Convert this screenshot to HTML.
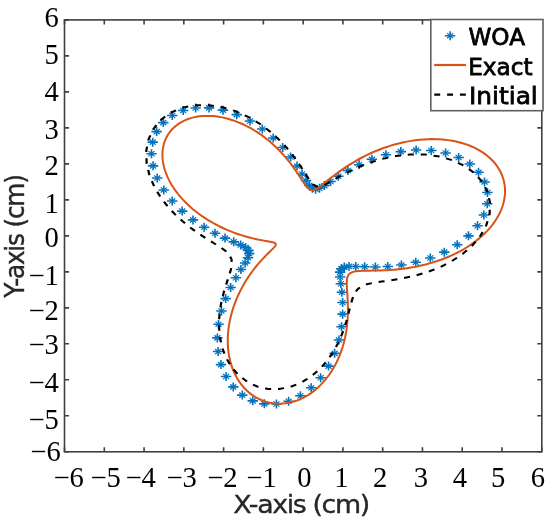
<!DOCTYPE html><html><head><meta charset="utf-8"><style>html,body{margin:0;padding:0;background:#fff;}svg{display:block}</style></head><body>
<svg width="550" height="526" viewBox="0 0 550 526">
<rect width="550" height="526" fill="#fff"/>
<defs><filter id="b" x="0" y="0" width="1" height="1"><feGaussianBlur stdDeviation="0.4"/></filter><filter id="b2" x="-0.1" y="-0.1" width="1.2" height="1.2"><feGaussianBlur stdDeviation="0.55"/></filter></defs>
<g filter="url(#b)">
<g filter="url(#b2)" fill="none" stroke="#0072BD"><path d="M463.27,235.85h10.4M468.47,231.35v9.0M472.29,225.82h10.4M477.49,221.32v9.0M478.64,214.98h10.4M483.84,210.48v9.0M482.02,203.75h10.4M487.22,199.25v9.0M482.25,192.57h10.4M487.45,188.07v9.0M479.32,181.94h10.4M484.52,177.44v9.0M473.35,172.31h10.4M478.55,167.81v9.0M464.59,164.07h10.4M469.79,159.57v9.0M453.46,157.55h10.4M458.66,153.05v9.0M440.42,152.99h10.4M445.62,148.49v9.0M426.04,150.50h10.4M431.24,146.00v9.0M410.91,150.07h10.4M416.11,145.57v9.0M395.62,151.58h10.4M400.82,147.08v9.0M380.71,154.76h10.4M385.91,150.26v9.0M366.69,159.28h10.4M371.89,154.78v9.0M353.93,164.70h10.4M359.13,160.20v9.0M342.72,170.55h10.4M347.92,166.05v9.0M333.20,176.30h10.4M338.40,171.80v9.0M325.39,181.48h10.4M330.59,176.98v9.0M319.16,185.61h10.4M324.36,181.11v9.0M314.29,188.31h10.4M319.49,183.81v9.0M310.44,189.27h10.4M315.64,184.77v9.0M307.21,188.31h10.4M312.41,183.81v9.0M304.17,185.38h10.4M309.37,180.88v9.0M300.86,180.53h10.4M306.06,176.03v9.0M296.86,173.96h10.4M302.06,169.46v9.0M291.81,165.98h10.4M297.01,161.48v9.0M285.42,156.99h10.4M290.62,152.49v9.0M277.52,147.48h10.4M282.72,142.98v9.0M268.05,137.97h10.4M273.25,133.47v9.0M257.08,128.98h10.4M262.28,124.48v9.0M244.82,121.06h10.4M250.02,116.56v9.0M231.57,114.65h10.4M236.77,110.15v9.0M217.76,110.16h10.4M222.96,105.66v9.0M203.87,107.88h10.4M209.07,103.38v9.0M190.43,108.00h10.4M195.63,103.50v9.0M177.98,110.56h10.4M183.18,106.06v9.0M167.05,115.50h10.4M172.25,111.00v9.0M158.09,122.62h10.4M163.29,118.12v9.0M151.49,131.62h10.4M156.69,127.12v9.0M147.52,142.13h10.4M152.72,137.63v9.0M146.31,153.69h10.4M151.51,149.19v9.0M147.86,165.83h10.4M153.06,161.33v9.0M152.04,178.06h10.4M157.24,173.56v9.0M158.56,189.94h10.4M163.76,185.44v9.0M167.03,201.06h10.4M172.23,196.56v9.0M176.97,211.12h10.4M182.17,206.62v9.0M187.80,219.90h10.4M193.00,215.40v9.0M198.95,227.29h10.4M204.15,222.79v9.0M209.80,233.32h10.4M215.00,228.82v9.0M219.82,238.09h10.4M225.02,233.59v9.0M228.50,241.85h10.4M233.70,237.35v9.0M235.47,244.90h10.4M240.67,240.40v9.0M240.44,247.60h10.4M245.64,243.10v9.0M243.29,250.37h10.4M248.49,245.87v9.0M244.03,253.61h10.4M249.23,249.11v9.0M242.81,257.69h10.4M248.01,253.19v9.0M239.91,262.93h10.4M245.11,258.43v9.0M235.72,269.56h10.4M240.92,265.06v9.0M230.73,277.73h10.4M235.93,273.23v9.0M225.46,287.44h10.4M230.66,282.94v9.0M220.46,298.59h10.4M225.66,294.09v9.0M216.26,310.96h10.4M221.46,306.46v9.0M213.35,324.20h10.4M218.55,319.70v9.0M212.13,337.90h10.4M217.33,333.40v9.0M212.89,351.55h10.4M218.09,347.05v9.0M215.80,364.62h10.4M221.00,360.12v9.0M220.88,376.57h10.4M226.08,372.07v9.0M228.04,386.88h10.4M233.24,382.38v9.0M237.05,395.09h10.4M242.25,390.59v9.0M247.55,400.83h10.4M252.75,396.33v9.0M259.11,403.84h10.4M264.31,399.34v9.0M271.24,403.98h10.4M276.44,399.48v9.0M283.42,401.24h10.4M288.62,396.74v9.0M295.15,395.76h10.4M300.35,391.26v9.0M305.95,387.81h10.4M311.15,383.31v9.0M315.44,377.76h10.4M320.64,373.26v9.0M323.33,366.09h10.4M328.53,361.59v9.0M329.44,353.33h10.4M334.64,348.83v9.0M333.75,340.04h10.4M338.95,335.54v9.0M336.35,326.80h10.4M341.55,322.30v9.0M337.46,314.14h10.4M342.66,309.64v9.0M337.42,302.51h10.4M342.62,298.01v9.0M336.65,292.29h10.4M341.85,287.79v9.0M335.64,283.75h10.4M340.84,279.25v9.0M334.90,277.01h10.4M340.10,272.51v9.0M334.94,272.09h10.4M340.14,267.59v9.0M336.20,268.85h10.4M341.40,264.35v9.0M339.07,267.08h10.4M344.27,262.58v9.0M343.83,266.42h10.4M349.03,261.92v9.0M350.62,266.48h10.4M355.82,261.98v9.0M359.46,266.82h10.4M364.66,262.32v9.0M370.21,266.98h10.4M375.41,262.48v9.0M382.60,266.52h10.4M387.80,262.02v9.0M396.21,265.06h10.4M401.41,260.56v9.0M410.57,262.29h10.4M415.77,257.79v9.0M425.07,258.02h10.4M430.27,253.52v9.0M439.10,252.15h10.4M444.30,247.65v9.0M452.03,244.71h10.4M457.23,240.21v9.0" stroke-width="1.6"/><path d="M465.47,233.25l6.0,5.2M465.47,238.45l6.0,-5.2M474.49,223.22l6.0,5.2M474.49,228.42l6.0,-5.2M480.84,212.38l6.0,5.2M480.84,217.58l6.0,-5.2M484.22,201.15l6.0,5.2M484.22,206.35l6.0,-5.2M484.45,189.97l6.0,5.2M484.45,195.17l6.0,-5.2M481.52,179.34l6.0,5.2M481.52,184.54l6.0,-5.2M475.55,169.71l6.0,5.2M475.55,174.91l6.0,-5.2M466.79,161.47l6.0,5.2M466.79,166.67l6.0,-5.2M455.66,154.95l6.0,5.2M455.66,160.15l6.0,-5.2M442.62,150.39l6.0,5.2M442.62,155.59l6.0,-5.2M428.24,147.90l6.0,5.2M428.24,153.10l6.0,-5.2M413.11,147.47l6.0,5.2M413.11,152.67l6.0,-5.2M397.82,148.98l6.0,5.2M397.82,154.18l6.0,-5.2M382.91,152.16l6.0,5.2M382.91,157.36l6.0,-5.2M368.89,156.68l6.0,5.2M368.89,161.88l6.0,-5.2M356.13,162.10l6.0,5.2M356.13,167.30l6.0,-5.2M344.92,167.95l6.0,5.2M344.92,173.15l6.0,-5.2M335.40,173.70l6.0,5.2M335.40,178.90l6.0,-5.2M327.59,178.88l6.0,5.2M327.59,184.08l6.0,-5.2M321.36,183.01l6.0,5.2M321.36,188.21l6.0,-5.2M316.49,185.71l6.0,5.2M316.49,190.91l6.0,-5.2M312.64,186.67l6.0,5.2M312.64,191.87l6.0,-5.2M309.41,185.71l6.0,5.2M309.41,190.91l6.0,-5.2M306.37,182.78l6.0,5.2M306.37,187.98l6.0,-5.2M303.06,177.93l6.0,5.2M303.06,183.13l6.0,-5.2M299.06,171.36l6.0,5.2M299.06,176.56l6.0,-5.2M294.01,163.38l6.0,5.2M294.01,168.58l6.0,-5.2M287.62,154.39l6.0,5.2M287.62,159.59l6.0,-5.2M279.72,144.88l6.0,5.2M279.72,150.08l6.0,-5.2M270.25,135.37l6.0,5.2M270.25,140.57l6.0,-5.2M259.28,126.38l6.0,5.2M259.28,131.58l6.0,-5.2M247.02,118.46l6.0,5.2M247.02,123.66l6.0,-5.2M233.77,112.05l6.0,5.2M233.77,117.25l6.0,-5.2M219.96,107.56l6.0,5.2M219.96,112.76l6.0,-5.2M206.07,105.28l6.0,5.2M206.07,110.48l6.0,-5.2M192.63,105.40l6.0,5.2M192.63,110.60l6.0,-5.2M180.18,107.96l6.0,5.2M180.18,113.16l6.0,-5.2M169.25,112.90l6.0,5.2M169.25,118.10l6.0,-5.2M160.29,120.02l6.0,5.2M160.29,125.22l6.0,-5.2M153.69,129.02l6.0,5.2M153.69,134.22l6.0,-5.2M149.72,139.53l6.0,5.2M149.72,144.73l6.0,-5.2M148.51,151.09l6.0,5.2M148.51,156.29l6.0,-5.2M150.06,163.23l6.0,5.2M150.06,168.43l6.0,-5.2M154.24,175.46l6.0,5.2M154.24,180.66l6.0,-5.2M160.76,187.34l6.0,5.2M160.76,192.54l6.0,-5.2M169.23,198.46l6.0,5.2M169.23,203.66l6.0,-5.2M179.17,208.52l6.0,5.2M179.17,213.72l6.0,-5.2M190.00,217.30l6.0,5.2M190.00,222.50l6.0,-5.2M201.15,224.69l6.0,5.2M201.15,229.89l6.0,-5.2M212.00,230.72l6.0,5.2M212.00,235.92l6.0,-5.2M222.02,235.49l6.0,5.2M222.02,240.69l6.0,-5.2M230.70,239.25l6.0,5.2M230.70,244.45l6.0,-5.2M237.67,242.30l6.0,5.2M237.67,247.50l6.0,-5.2M242.64,245.00l6.0,5.2M242.64,250.20l6.0,-5.2M245.49,247.77l6.0,5.2M245.49,252.97l6.0,-5.2M246.23,251.01l6.0,5.2M246.23,256.21l6.0,-5.2M245.01,255.09l6.0,5.2M245.01,260.29l6.0,-5.2M242.11,260.33l6.0,5.2M242.11,265.53l6.0,-5.2M237.92,266.96l6.0,5.2M237.92,272.16l6.0,-5.2M232.93,275.13l6.0,5.2M232.93,280.33l6.0,-5.2M227.66,284.84l6.0,5.2M227.66,290.04l6.0,-5.2M222.66,295.99l6.0,5.2M222.66,301.19l6.0,-5.2M218.46,308.36l6.0,5.2M218.46,313.56l6.0,-5.2M215.55,321.60l6.0,5.2M215.55,326.80l6.0,-5.2M214.33,335.30l6.0,5.2M214.33,340.50l6.0,-5.2M215.09,348.95l6.0,5.2M215.09,354.15l6.0,-5.2M218.00,362.02l6.0,5.2M218.00,367.22l6.0,-5.2M223.08,373.97l6.0,5.2M223.08,379.17l6.0,-5.2M230.24,384.28l6.0,5.2M230.24,389.48l6.0,-5.2M239.25,392.49l6.0,5.2M239.25,397.69l6.0,-5.2M249.75,398.23l6.0,5.2M249.75,403.43l6.0,-5.2M261.31,401.24l6.0,5.2M261.31,406.44l6.0,-5.2M273.44,401.38l6.0,5.2M273.44,406.58l6.0,-5.2M285.62,398.64l6.0,5.2M285.62,403.84l6.0,-5.2M297.35,393.16l6.0,5.2M297.35,398.36l6.0,-5.2M308.15,385.21l6.0,5.2M308.15,390.41l6.0,-5.2M317.64,375.16l6.0,5.2M317.64,380.36l6.0,-5.2M325.53,363.49l6.0,5.2M325.53,368.69l6.0,-5.2M331.64,350.73l6.0,5.2M331.64,355.93l6.0,-5.2M335.95,337.44l6.0,5.2M335.95,342.64l6.0,-5.2M338.55,324.20l6.0,5.2M338.55,329.40l6.0,-5.2M339.66,311.54l6.0,5.2M339.66,316.74l6.0,-5.2M339.62,299.91l6.0,5.2M339.62,305.11l6.0,-5.2M338.85,289.69l6.0,5.2M338.85,294.89l6.0,-5.2M337.84,281.15l6.0,5.2M337.84,286.35l6.0,-5.2M337.10,274.41l6.0,5.2M337.10,279.61l6.0,-5.2M337.14,269.49l6.0,5.2M337.14,274.69l6.0,-5.2M338.40,266.25l6.0,5.2M338.40,271.45l6.0,-5.2M341.27,264.48l6.0,5.2M341.27,269.68l6.0,-5.2M346.03,263.82l6.0,5.2M346.03,269.02l6.0,-5.2M352.82,263.88l6.0,5.2M352.82,269.08l6.0,-5.2M361.66,264.22l6.0,5.2M361.66,269.42l6.0,-5.2M372.41,264.38l6.0,5.2M372.41,269.58l6.0,-5.2M384.80,263.92l6.0,5.2M384.80,269.12l6.0,-5.2M398.41,262.46l6.0,5.2M398.41,267.66l6.0,-5.2M412.77,259.69l6.0,5.2M412.77,264.89l6.0,-5.2M427.27,255.42l6.0,5.2M427.27,260.62l6.0,-5.2M441.30,249.55l6.0,5.2M441.30,254.75l6.0,-5.2M454.23,242.11l6.0,5.2M454.23,247.31l6.0,-5.2" stroke-width="1.2"/></g>
<path d="M482.12,235.85 L484.86,233.26 L487.46,230.60 L489.91,227.86 L492.20,225.06 L494.32,222.20 L496.26,219.29 L498.02,216.33 L499.59,213.34 L500.98,210.31 L502.17,207.25 L503.15,204.18 L503.94,201.10 L504.51,198.02 L504.88,194.94 L505.05,191.87 L504.99,188.83 L504.73,185.81 L504.26,182.84 L503.58,179.90 L502.69,177.02 L501.59,174.20 L500.29,171.45 L498.79,168.77 L497.10,166.17 L495.21,163.66 L493.13,161.24 L490.87,158.93 L488.44,156.72 L485.84,154.62 L483.07,152.65 L480.15,150.79 L477.08,149.06 L473.87,147.46 L470.54,145.99 L467.07,144.66 L463.50,143.47 L459.82,142.42 L456.05,141.52 L452.19,140.75 L448.25,140.13 L444.25,139.66 L440.19,139.33 L436.09,139.14 L431.95,139.09 L427.78,139.18 L423.59,139.40 L419.40,139.76 L415.22,140.25 L411.04,140.87 L406.88,141.61 L402.75,142.46 L398.67,143.43 L394.62,144.49 L390.63,145.66 L386.71,146.93 L382.85,148.27 L379.07,149.70 L375.36,151.20 L371.75,152.76 L368.23,154.38 L364.81,156.05 L361.49,157.76 L358.27,159.50 L355.16,161.27 L352.17,163.04 L349.29,164.83 L346.52,166.61 L343.88,168.39 L341.34,170.14 L338.93,171.87 L336.63,173.56 L334.45,175.21 L332.39,176.80 L330.43,178.34 L328.59,179.81 L326.85,181.21 L325.21,182.53 L323.67,183.76 L322.23,184.90 L320.88,185.95 L319.61,186.88 L318.42,187.72 L317.30,188.43 L316.25,189.03 L315.26,189.51 L314.33,189.87 L313.44,190.10 L312.59,190.21 L311.77,190.18 L310.99,190.03 L310.21,189.74 L309.46,189.33 L308.70,188.78 L307.94,188.11 L307.17,187.31 L306.38,186.39 L305.57,185.34 L304.72,184.18 L303.84,182.90 L302.91,181.51 L301.94,180.01 L300.90,178.42 L299.80,176.72 L298.64,174.94 L297.40,173.08 L296.09,171.14 L294.70,169.13 L293.22,167.06 L291.65,164.93 L290.00,162.76 L288.25,160.55 L286.41,158.31 L284.48,156.04 L282.45,153.76 L280.32,151.48 L278.10,149.20 L275.78,146.93 L273.37,144.69 L270.88,142.47 L268.29,140.29 L265.61,138.16 L262.86,136.08 L260.03,134.06 L257.12,132.12 L254.14,130.25 L251.10,128.47 L248.01,126.79 L244.86,125.20 L241.66,123.72 L238.43,122.35 L235.17,121.10 L231.88,119.97 L228.58,118.97 L225.27,118.10 L221.96,117.37 L218.66,116.78 L215.38,116.34 L212.12,116.04 L208.90,115.89 L205.72,115.89 L202.59,116.04 L199.52,116.34 L196.52,116.79 L193.60,117.39 L190.77,118.14 L188.03,119.04 L185.39,120.09 L182.87,121.28 L180.46,122.61 L178.17,124.08 L176.02,125.68 L174.01,127.41 L172.14,129.27 L170.42,131.24 L168.86,133.33 L167.46,135.53 L166.22,137.83 L165.15,140.22 L164.25,142.70 L163.53,145.26 L162.99,147.90 L162.62,150.60 L162.43,153.37 L162.43,156.18 L162.60,159.04 L162.96,161.94 L163.49,164.86 L164.20,167.80 L165.09,170.76 L166.15,173.72 L167.37,176.68 L168.76,179.62 L170.31,182.55 L172.01,185.46 L173.87,188.33 L175.86,191.16 L177.99,193.95 L180.25,196.69 L182.64,199.37 L185.14,201.98 L187.74,204.53 L190.44,207.01 L193.23,209.41 L196.10,211.72 L199.04,213.96 L202.04,216.10 L205.09,218.15 L208.18,220.11 L211.31,221.98 L214.45,223.75 L217.61,225.43 L220.77,227.00 L223.92,228.48 L227.05,229.87 L230.15,231.16 L233.21,232.36 L236.23,233.46 L239.18,234.48 L242.08,235.41 L244.89,236.27 L247.63,237.04 L250.27,237.73 L252.82,238.36 L255.26,238.93 L257.58,239.43 L259.79,239.88 L261.87,240.28 L263.82,240.64 L265.64,240.97 L267.32,241.26 L268.85,241.53 L270.24,241.79 L271.48,242.04 L272.56,242.28 L273.50,242.53 L274.28,242.80 L274.91,243.08 L275.38,243.39 L275.70,243.73 L275.87,244.11 L275.89,244.54 L275.77,245.02 L275.50,245.56 L275.10,246.16 L274.55,246.84 L273.88,247.59 L273.09,248.43 L272.17,249.35 L271.14,250.37 L270.01,251.48 L268.77,252.68 L267.45,254.00 L266.04,255.41 L264.56,256.94 L263.01,258.58 L261.39,260.33 L259.73,262.19 L258.03,264.16 L256.30,266.25 L254.54,268.45 L252.77,270.76 L251.00,273.18 L249.23,275.72 L247.47,278.35 L245.74,281.09 L244.04,283.93 L242.39,286.87 L240.78,289.90 L239.23,293.01 L237.75,296.21 L236.35,299.48 L235.03,302.82 L233.79,306.22 L232.66,309.68 L231.63,313.19 L230.71,316.74 L229.90,320.33 L229.22,323.94 L228.66,327.57 L228.23,331.20 L227.94,334.84 L227.78,338.47 L227.77,342.08 L227.89,345.67 L228.16,349.22 L228.58,352.73 L229.14,356.19 L229.85,359.58 L230.70,362.91 L231.70,366.15 L232.84,369.31 L234.12,372.37 L235.54,375.33 L237.09,378.18 L238.78,380.91 L240.59,383.51 L242.52,385.98 L244.57,388.31 L246.73,390.49 L249.00,392.52 L251.37,394.40 L253.83,396.11 L256.37,397.66 L258.99,399.03 L261.69,400.23 L264.45,401.26 L267.26,402.11 L270.13,402.77 L273.03,403.26 L275.96,403.56 L278.92,403.67 L281.89,403.61 L284.87,403.36 L287.85,402.93 L290.82,402.32 L293.77,401.54 L296.70,400.58 L299.59,399.45 L302.44,398.15 L305.25,396.70 L308.00,395.08 L310.69,393.32 L313.31,391.41 L315.86,389.36 L318.33,387.17 L320.72,384.86 L323.02,382.43 L325.22,379.89 L327.33,377.25 L329.34,374.51 L331.24,371.68 L333.04,368.78 L334.74,365.80 L336.32,362.76 L337.80,359.67 L339.17,356.54 L340.42,353.37 L341.57,350.17 L342.61,346.96 L343.55,343.73 L344.39,340.51 L345.12,337.29 L345.76,334.10 L346.30,330.92 L346.76,327.78 L347.13,324.68 L347.43,321.63 L347.65,318.63 L347.80,315.69 L347.89,312.82 L347.92,310.02 L347.91,307.31 L347.86,304.67 L347.77,302.13 L347.66,299.68 L347.53,297.32 L347.39,295.07 L347.24,292.91 L347.10,290.87 L346.97,288.93 L346.87,287.09 L346.79,285.37 L346.75,283.76 L346.75,282.25 L346.81,280.86 L346.92,279.57 L347.11,278.38 L347.36,277.30 L347.70,276.32 L348.12,275.44 L348.64,274.65 L349.25,273.95 L349.97,273.34 L350.79,272.81 L351.73,272.35 L352.79,271.96 L353.97,271.64 L355.27,271.38 L356.70,271.17 L358.25,271.01 L359.94,270.89 L361.75,270.80 L363.70,270.73 L365.78,270.69 L367.99,270.66 L370.32,270.63 L372.79,270.60 L375.37,270.56 L378.08,270.50 L380.90,270.42 L383.84,270.31 L386.89,270.16 L390.04,269.97 L393.29,269.73 L396.63,269.43 L400.05,269.08 L403.55,268.65 L407.12,268.15 L410.76,267.57 L414.44,266.92 L418.18,266.17 L421.94,265.34 L425.74,264.41 L429.55,263.38 L433.38,262.26 L437.20,261.04 L441.01,259.71 L444.79,258.28 L448.55,256.74 L452.26,255.10 L455.92,253.36 L459.51,251.51 L463.04,249.56 L466.48,247.51 L469.83,245.36 L473.08,243.12 L476.21,240.78 L479.23,238.36 L482.11,235.85" fill="none" stroke="#D95319" stroke-width="2.0" stroke-linejoin="round"/>
<g transform="translate(303.15,0) scale(1.105,1) translate(-303.15,0)"><path d="M463.56,235.85 L468.86,225.32 L471.84,214.32 L472.32,203.25 L470.23,192.50 L465.62,182.49 L458.64,173.60 L449.56,166.16 L438.74,160.41 L426.58,156.53 L413.57,154.55 L400.18,154.44 L386.88,156.02 L374.10,159.03 L362.22,163.14 L351.52,167.93 L342.18,172.94 L334.30,177.72 L327.82,181.82 L322.64,184.84 L318.52,186.44 L315.15,186.37 L312.20,184.50 L309.29,180.81 L306.03,175.39 L302.08,168.45 L297.14,160.30 L291.00,151.33 L283.51,142.00 L274.66,132.81 L264.52,124.25 L253.28,116.79 L241.21,110.88 L228.67,106.85 L216.07,104.96 L203.86,105.38 L192.49,108.14 L182.39,113.16 L173.94,120.26 L167.47,129.15 L163.18,139.49 L161.18,150.86 L161.50,162.82 L164.00,174.95 L168.48,186.84 L174.63,198.11 L182.05,208.50 L190.33,217.80 L198.99,225.90 L207.57,232.82 L215.65,238.63 L222.85,243.52 L228.87,247.73 L233.51,251.58 L236.67,255.37 L238.34,259.44 L238.64,264.08 L237.77,269.55 L236.03,276.04 L233.74,283.63 L231.31,292.35 L229.11,302.09 L227.53,312.68 L226.90,323.85 L227.50,335.25 L229.53,346.50 L233.09,357.19 L238.20,366.89 L244.77,375.22 L252.62,381.83 L261.51,386.46 L271.12,388.91 L281.11,389.10 L291.13,387.06 L300.82,382.92 L309.87,376.88 L318.03,369.27 L325.12,360.44 L331.04,350.82 L335.80,340.84 L339.47,330.91 L342.23,321.43 L344.33,312.71 L346.07,305.02 L347.78,298.52 L349.81,293.28 L352.47,289.25 L356.07,286.31 L360.81,284.23 L366.85,282.75 L374.24,281.53 L382.90,280.22 L392.70,278.48 L403.38,275.98 L414.60,272.45 L425.95,267.71 L436.98,261.64 L447.23,254.24 L456.23,245.58 L463.56,235.85" fill="none" stroke="#000" stroke-width="2.0" stroke-dasharray="5.5 6.216" stroke-dashoffset="1.150"/></g>
<g stroke="#404040" stroke-width="1.6" fill="none">
<rect x="64.5" y="19.9" width="477.29999999999995" height="431.90000000000003"/>
<path d="M64.53,451.8v-4.5M64.53,19.9v4.5M64.5,451.79h4.5M541.8,451.79h-4.5M104.30,451.8v-4.5M104.30,19.9v4.5M64.5,415.80h4.5M541.8,415.80h-4.5M144.07,451.8v-4.5M144.07,19.9v4.5M64.5,379.81h4.5M541.8,379.81h-4.5M183.84,451.8v-4.5M183.84,19.9v4.5M64.5,343.82h4.5M541.8,343.82h-4.5M223.61,451.8v-4.5M223.61,19.9v4.5M64.5,307.83h4.5M541.8,307.83h-4.5M263.38,451.8v-4.5M263.38,19.9v4.5M64.5,271.84h4.5M541.8,271.84h-4.5M303.15,451.8v-4.5M303.15,19.9v4.5M64.5,235.85h4.5M541.8,235.85h-4.5M342.92,451.8v-4.5M342.92,19.9v4.5M64.5,199.86h4.5M541.8,199.86h-4.5M382.69,451.8v-4.5M382.69,19.9v4.5M64.5,163.87h4.5M541.8,163.87h-4.5M422.46,451.8v-4.5M422.46,19.9v4.5M64.5,127.88h4.5M541.8,127.88h-4.5M462.23,451.8v-4.5M462.23,19.9v4.5M64.5,91.89h4.5M541.8,91.89h-4.5M502.00,451.8v-4.5M502.00,19.9v4.5M64.5,55.90h4.5M541.8,55.90h-4.5M541.77,451.8v-4.5M541.77,19.9v4.5M64.5,19.91h4.5M541.8,19.91h-4.5"/>
</g>
<g font-family="&quot;Liberation Serif&quot;, serif" font-size="28.6" fill="#000">
<text transform="translate(68.60,487.3) scale(1.0,1)" text-anchor="middle">−6</text>
<text transform="translate(105.70,487.3) scale(1.0,1)" text-anchor="middle">−5</text>
<text transform="translate(140.70,487.3) scale(1.0,1)" text-anchor="middle">−4</text>
<text transform="translate(181.60,487.3) scale(1.0,1)" text-anchor="middle">−3</text>
<text transform="translate(222.40,487.3) scale(1.0,1)" text-anchor="middle">−2</text>
<text transform="translate(261.50,487.3) scale(1.0,1)" text-anchor="middle">−1</text>
<text transform="translate(304.50,487.3) scale(1.0,1)" text-anchor="middle">0</text>
<text transform="translate(341.30,487.3) scale(1.0,1)" text-anchor="middle">1</text>
<text transform="translate(380.20,487.3) scale(1.0,1)" text-anchor="middle">2</text>
<text transform="translate(421.00,487.3) scale(1.0,1)" text-anchor="middle">3</text>
<text transform="translate(460.00,487.3) scale(1.0,1)" text-anchor="middle">4</text>
<text transform="translate(498.20,487.3) scale(1.0,1)" text-anchor="middle">5</text>
<text transform="translate(538.00,487.3) scale(1.0,1)" text-anchor="middle">6</text>
<text transform="translate(58.90,27.30) scale(1.0,1)" text-anchor="end">6</text>
<text transform="translate(58.90,63.60) scale(1.0,1)" text-anchor="end">5</text>
<text transform="translate(58.90,100.75) scale(1.0,1)" text-anchor="end">4</text>
<text transform="translate(58.90,139.10) scale(1.0,1)" text-anchor="end">3</text>
<text transform="translate(58.90,175.40) scale(1.0,1)" text-anchor="end">2</text>
<text transform="translate(58.90,213.40) scale(1.0,1)" text-anchor="end">1</text>
<text transform="translate(58.90,247.40) scale(1.0,1)" text-anchor="end">0</text>
<text transform="translate(58.90,285.40) scale(1.0,1)" text-anchor="end">−1</text>
<text transform="translate(58.90,319.70) scale(1.0,1)" text-anchor="end">−2</text>
<text transform="translate(58.90,354.40) scale(1.0,1)" text-anchor="end">−3</text>
<text transform="translate(58.90,391.90) scale(1.0,1)" text-anchor="end">−4</text>
<text transform="translate(58.90,428.50) scale(1.0,1)" text-anchor="end">−5</text>
<text transform="translate(60.70,461.20) scale(1.0,1)" text-anchor="end">−6</text>
</g>
<g font-family="&quot;DejaVu Sans&quot;, &quot;Liberation Sans&quot;, sans-serif" fill="#262626" stroke="#262626" stroke-width="0.35">
<text transform="translate(233.2,513.3) scale(1.075,1)" font-size="25" letter-spacing="-1.3">X-axis (cm)</text>
<text transform="translate(23.9,297.8) rotate(-90) scale(0.99,1.085)" font-size="25" letter-spacing="-1.2">Y-axis (cm)</text>
</g>
<rect x="430.8" y="19.5" width="112.2" height="91.2" fill="#fff" stroke="#606060" stroke-width="1.6"/>
<g filter="url(#b2)" fill="none" stroke="#0072BD"><path d="M444.90,35.70h10.4M450.10,31.20v9.0" stroke-width="1.6"/><path d="M447.10,33.10l6.0,5.2M447.10,38.30l6.0,-5.2" stroke-width="1.2"/></g>
<path d="M434.2,65H466" stroke="#D95319" stroke-width="2.2"/>
<path d="M434.3,94.6H466.2" stroke="#000" stroke-width="2.2" stroke-dasharray="5.9 6.9"/>
<g font-family="&quot;DejaVu Sans&quot;, &quot;Liberation Sans&quot;, sans-serif" font-size="22.5" fill="#000" stroke="#000" stroke-width="0.75">
<text transform="translate(468.4,44.9) scale(1.03,1)" letter-spacing="0">WOA</text>
<text transform="translate(468.2,74.9) scale(1.03,1)" letter-spacing="0">Exact</text>
<text transform="translate(469.0,103.9) scale(1.105,1)" letter-spacing="0">Initial</text>
</g>
</g></svg></body></html>
